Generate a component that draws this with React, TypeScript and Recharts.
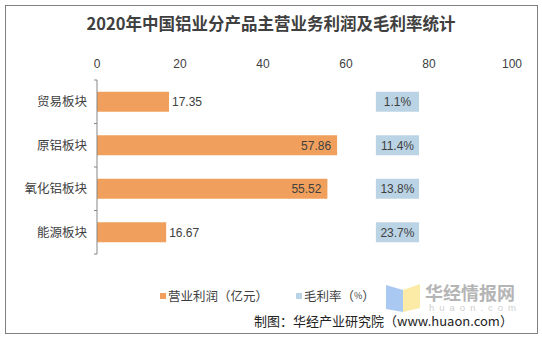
import { BarChart, Bar, XAxis, YAxis, LabelList, Legend } from "recharts";

const categories = ["贸易板块", "原铝板块", "氧化铝板块", "能源板块"];
const profits = [17.35, 57.86, 55.52, 16.67];
const rates = [1.1, 11.4, 13.8, 23.7];
const xTicks = [0, 20, 40, 60, 80, 100];

// the rate boxes sit in a fixed column of the profit scale
const RATE_BOX_START = 67.2;
const RATE_BOX_WIDTH = 10.4;

const FONT = '"Liberation Sans", Arial, "Noto Sans CJK SC", sans-serif';
const CJK = '"Noto Sans CJK SC", "Liberation Sans", sans-serif';
const ORANGE = "#F0A05C";
const BLUE = "#BBD4E5";
const TEXT = "#404040";
const AXIS = "#868686";

const data = categories.map((name, i) => ({
  name,
  profit: profits[i],
  gap: RATE_BOX_START - profits[i],
  box: RATE_BOX_WIDTH,
  rate: rates[i],
}));

const ProfitLabel = (props: any) => {
  const { x, y, width, height, value } = props;
  const inside = value > 30;
  return (
    <text
      x={inside ? x + width - 6 : x + width + 3}
      y={y + height / 2}
      dy="0.36em"
      textAnchor={inside ? "end" : "start"}
      fontSize={12}
      fill={TEXT}
      fontFamily={FONT}
    >
      {value}
    </text>
  );
};

// label plus the little tick marks that Excel puts between the categories
const CategoryTick = (props: any) => {
  const { x, y, payload, index, visibleTicksCount } = props;
  const half = payload?.offset ?? 24;
  const ax = x + 10;
  const last = index === visibleTicksCount - 1;
  return (
    <g>
      <line x1={ax - 3} x2={ax} y1={y - half} y2={y - half} stroke={AXIS} />
      {last && <line x1={ax - 3} x2={ax} y1={y + half} y2={y + half} stroke={AXIS} />}
      <text x={x} y={y} dy="0.36em" textAnchor="end" fontSize={12.5} fill={TEXT} fontFamily={CJK}>
        {payload.value}
      </text>
    </g>
  );
};

const LegendContent = () => (
  <div style={{ display: "flex", fontFamily: CJK, fontSize: 12.5, color: TEXT, paddingLeft: 160 }}>
    <span style={{ display: "flex", alignItems: "center" }}>
      <span style={{ width: 6, height: 6, background: ORANGE, marginRight: 2 }} />
      营业利润（亿元）
    </span>
    <span style={{ display: "flex", alignItems: "center", marginLeft: 28 }}>
      <span style={{ width: 6, height: 6, background: BLUE, marginRight: 2 }} />
      毛利率（<span style={{ fontSize: 9 }}>%</span>）
    </span>
  </div>
);

export default function App() {
  return (
    <div
      style={{
        position: "absolute",
        left: 0,
        top: 0,
        width: 542,
        height: 338,
        background: "#fff",
      }}
    >
      <div
        style={{
          position: "absolute",
          left: 5,
          top: 5,
          width: 531,
          height: 327,
          border: "1px solid #808080",
        }}
      />
      <div
        style={{
          position: "absolute",
          left: 0,
          top: 11,
          width: 542,
          textAlign: "center",
          fontFamily: CJK,
          fontWeight: "bold",
          fontSize: 16.5,
          color: TEXT,
        }}
      >
        2020年中国铝业分产品主营业务利润及毛利率统计
      </div>

      <svg style={{ position: "absolute", left: 0, top: 0 }} width={542} height={338}>
        <polygon points="386,285 403,290 403,312 386,309" fill="#A9C9F2" />
        <polygon points="403,290 420,284 420,308 403,312" fill="#FBEBA6" />
        <text x={425} y={300} fontSize={18} fontWeight="bold" fill="#B5B5B5" fontFamily={CJK}>
          华经情报网
        </text>
        <text x={429} y={311} fontSize={9.5} fill="#CFCFCF" fontFamily={FONT} letterSpacing={5}>
          huaon.com
        </text>
      </svg>

      <div style={{ position: "absolute", left: 0, top: 0 }}>
        <BarChart
          width={542}
          height={338}
          data={data}
          layout="vertical"
          margin={{ top: 50, right: 30, bottom: 65, left: 5 }}
          barCategoryGap="27%"
        >
          <XAxis
            type="number"
            orientation="top"
            domain={[0, 100]}
            ticks={xTicks}
            axisLine={false}
            tickLine={false}
            tickMargin={6}
            tick={{ fontSize: 12, fill: TEXT, fontFamily: FONT }}
            height={30}
          />
          <YAxis
            type="category"
            dataKey="name"
            width={92}
            axisLine={{ stroke: AXIS }}
            tickLine={false}
            tickSize={0}
            tickMargin={10}
            tick={<CategoryTick />}
          />
          <Bar dataKey="profit" stackId="a" fill={ORANGE} isAnimationActive={false}>
            <LabelList dataKey="profit" content={<ProfitLabel />} />
          </Bar>
          <Bar dataKey="gap" stackId="a" fill="transparent" isAnimationActive={false} />
          <Bar dataKey="box" stackId="a" fill={BLUE} isAnimationActive={false}>
            <LabelList
              dataKey="rate"
              position="center"
              formatter={(v: any) => `${v}%`}
              style={{ fontSize: 12, fill: TEXT, fontFamily: FONT }}
            />
          </Bar>
          <Legend
            content={<LegendContent />}
            wrapperStyle={{ left: 0, top: 286, width: 542 }}
          />
        </BarChart>
      </div>

      <div
        style={{
          position: "absolute",
          left: 254,
          top: 311,
          fontFamily: CJK,
          fontSize: 13,
          color: "#222",
          whiteSpace: "nowrap",
        }}
      >
        制图：华经产业研究院（www.huaon.com）
      </div>
    </div>
  );
}
